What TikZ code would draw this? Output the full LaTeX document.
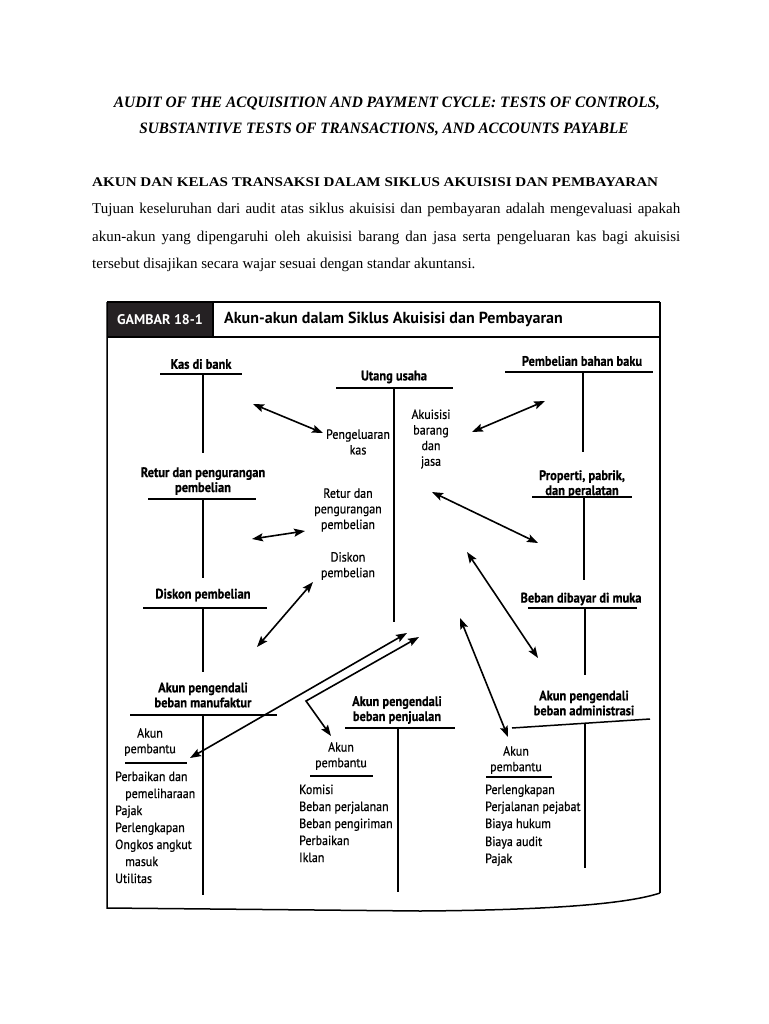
\documentclass[tikz,border=0pt]{standalone}
\usepackage{graphicx}
\usepackage{fontspec}
\setmainfont{Liberation Serif}
\newfontfamily\figfont[FakeStretch=0.9,FakeBold=0.6]{PT Sans}
\newfontfamily\figfontw{PT Sans}
\usetikzlibrary{arrows.meta}
\definecolor{hdark}{HTML}{252123}
\begin{document}
\begin{tikzpicture}[x=1pt,y=-1pt,
  para/.style={anchor=base west, inner sep=0pt, font=\fontsize{15}{17}\selectfont},
  hd/.style={font=\figfont\bfseries\fontsize{13.8}{15}\selectfont, align=center, inner sep=0pt},
  lb/.style={font=\figfont\fontsize{13.3}{15.6}\selectfont, align=center, inner sep=0pt},
  li/.style={font=\figfont\fontsize{13.3}{14}\selectfont, anchor=base west, inner sep=0pt},
  tl/.style={line width=1.5pt},
  fr/.style={line width=1.5pt},
  ar/.style={line width=1.6pt, {Stealth[length=11pt,width=8pt,inset=2pt]}-{Stealth[length=11pt,width=8pt,inset=2pt]}}
]
\useasboundingbox (0,0) rectangle (768,1024);
\fill[white] (0,0) rectangle (768,1024);

% ---------- page text ----------
\node[anchor=base, inner sep=0pt] (title1) at (387,107.5) {\resizebox{546pt}{10.5pt}{\bfseries\itshape AUDIT OF THE ACQUISITION AND PAYMENT CYCLE: TESTS OF CONTROLS,}};
\node[anchor=base, inner sep=0pt] (title2) at (384,133.5) {\resizebox{489pt}{10.5pt}{\bfseries\itshape SUBSTANTIVE TESTS OF TRANSACTIONS, AND ACCOUNTS PAYABLE}};
\node[anchor=base west, inner sep=0pt] (heading) at (92,186.5) {\resizebox{566pt}{8.8pt}{\bfseries AKUN DAN KELAS TRANSAKSI DALAM SIKLUS AKUISISI DAN PEMBAYARAN}};
\node[para] (p1) at (92,214) {\makebox[588pt][s]{Tujuan keseluruhan dari audit atas siklus akuisisi dan pembayaran adalah mengevaluasi apakah}};
\node[para] (p2) at (92,241) {\makebox[588pt][s]{akun-akun yang dipengaruhi oleh akuisisi barang dan jasa serta pengeluaran kas bagi akuisisi}};
\node[para] (p3) at (92,268) {tersebut disajikan secara wajar sesuai dengan standar akuntansi.};

% ---------- frame ----------
\fill[hdark] (107,302) rectangle (213,337);
\draw[fr] (107,302) -- (660,302);
\draw[fr] (107,337) -- (660,337);
\draw[fr] (213,302) -- (213,337);
\draw[fr] (660,302) -- (660,893);
\draw[fr] (107,302) -- (107,908) -- (420,911) .. controls (560,910) and (630,903) .. (660,893);
\node[font=\figfontw\bfseries\fontsize{14}{16}\selectfont, text=white, inner sep=0pt] (gambar) at (160,320) {GAMBAR 18-1};
\node[font=\figfontw\bfseries\fontsize{16}{18}\selectfont, anchor=west, inner sep=0pt] (ftitle) at (224,319) {Akun-akun dalam Siklus Akuisisi dan Pembayaran};

% ---------- T accounts ----------
\node[hd] (kas) at (201,364) {Kas di bank};
\draw[tl] (160,374) -- (242,374);
\draw[tl] (203,374) -- (203,453);

\node[hd] (utang) at (394,377) {Utang usaha};
\draw[tl] (336,388) -- (453,388);
\draw[tl] (394,388) -- (394,622);

\node[hd] (bahan) at (582,361) {Pembelian bahan baku};
\draw[tl] (505,372) -- (653,372);
\draw[tl] (583,372) -- (583,452);

\node[hd] (returL) at (203,481) {Retur dan pengurangan\\pembelian};
\draw[tl] (148,499) -- (256,499);
\draw[tl] (203,499) -- (203,578);

\node[hd] (properti) at (582,484) {Properti, pabrik,\\dan peralatan};
\draw[tl] (532,497) -- (632,497);
\draw[tl] (584,497) -- (584,580);

\node[hd] (diskonL) at (203,595) {Diskon pembelian};
\draw[tl] (143,608) -- (267,608);
\draw[tl] (203,608) -- (203,672);

\node[hd] (dibayar) at (581,599) {Beban dibayar di muka};
\draw[tl] (528,608) -- (637,608);
\draw[tl] (585,608) -- (585,675);

\node[hd] (manuf) at (203,695) {Akun pengendali\\beban manufaktur};
\draw[tl] (130,715) -- (277,715);
\draw[tl] (203,715) -- (203,895);

\node[hd] (jual) at (397,710) {Akun pengendali\\beban penjualan};
\draw[tl] (345,728) -- (455,728);
\draw[tl] (398,728) -- (398,892);

\node[hd] (admin) at (584,703) {Akun pengendali\\beban administrasi};
\draw[tl] (512,728) -- (650,719);
\draw[tl] (585,724) -- (585,868);

% ---------- centre labels ----------
\node[lb] (pengeluaran) at (358,442) {Pengeluaran\\kas};
\node[lb] (akuisisi) at (431,439) {Akuisisi\\barang\\dan\\jasa};
\node[lb] (returC) at (348,510) {Retur dan\\pengurangan\\pembelian};
\node[lb] (diskonC) at (348,566) {Diskon\\pembelian};

% ---------- akun pembantu ----------
\node[lb] (pbL) at (150,742) {Akun\\pembantu};
\draw[tl] (125,763) -- (187,763);
\node[li] (l1) at (115,781) {Perbaikan dan};
\node[li] (l2) at (125,798) {pemeliharaan};
\node[li] (l3) at (115,815) {Pajak};
\node[li] (l4) at (115,832) {Perlengkapan};
\node[li] (l5) at (115,849) {Ongkos angkut};
\node[li] (l6) at (125,866) {masuk};
\node[li] (l7) at (115,883) {Utilitas};

\node[lb] (pbM) at (341,756) {Akun\\pembantu};
\draw[tl] (310,776) -- (373,776);
\node[li] (m1) at (299,794) {Komisi};
\node[li] (m2) at (299,811) {Beban perjalanan};
\node[li] (m3) at (299,828) {Beban pengiriman};
\node[li] (m4) at (299,845) {Perbaikan};
\node[li] (m5) at (299,862) {Iklan};

\node[lb] (pbR) at (516,760) {Akun\\pembantu};
\draw[tl] (486,777) -- (552,777);
\node[li] (r1) at (485,794) {Perlengkapan};
\node[li] (r2) at (485,811) {Perjalanan pejabat};
\node[li] (r3) at (485,828) {Biaya hukum};
\node[li] (r4) at (485,846) {Biaya audit};
\node[li] (r5) at (485,863) {Pajak};

% ---------- arrows ----------
\coordinate (a1s) at (253,404); \coordinate (a1e) at (323,433);
\coordinate (a2s) at (472,432); \coordinate (a2e) at (545,401);
\coordinate (a3s) at (252,539); \coordinate (a3e) at (305,531);
\coordinate (a4s) at (257,647); \coordinate (a4e) at (313,582);
\coordinate (a5s) at (432,492); \coordinate (a5e) at (538,543);
\coordinate (a6s) at (467,552); \coordinate (a6e) at (538,658);
\coordinate (a7s) at (460,618); \coordinate (a7e) at (508,737);
\coordinate (a8s) at (190,758); \coordinate (a8e) at (407,633);
\coordinate (a9s) at (419,637); \coordinate (a9m) at (306,701); \coordinate (a9e) at (331,736);
\draw[ar] (a1s) -- (a1e);
\draw[ar] (a2s) -- (a2e);
\draw[ar] (a3s) -- (a3e);
\draw[ar] (a4s) -- (a4e);
\draw[ar] (a5s) -- (a5e);
\draw[ar] (a6s) -- (a6e);
\draw[ar] (a7s) -- (a7e);
\draw[ar] (a8s) -- (a8e);
\draw[ar] (a9s) -- (a9m) -- (a9e);
\end{tikzpicture}
\end{document}
